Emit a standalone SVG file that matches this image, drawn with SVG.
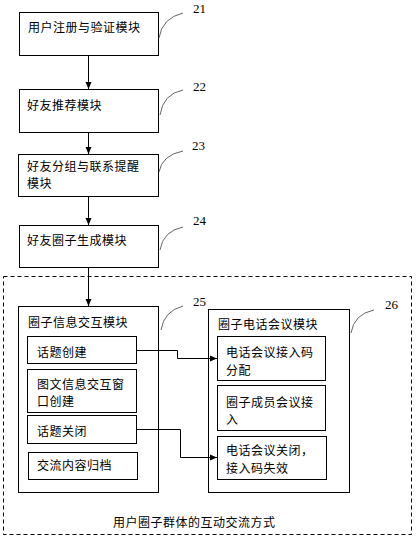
<svg xmlns="http://www.w3.org/2000/svg" width="416" height="544" viewBox="0 0 416 544">
<style>
.box{fill:#fff;stroke:#000;stroke-width:1}
.t{font-family:"Noto Sans CJK SC","Noto Sans CJK JP",sans-serif;font-size:12px;letter-spacing:0.5px;fill:#000}
.n{font-family:"Liberation Serif",serif;font-size:13px;fill:#000}
.c{fill:none;stroke:#666;stroke-width:1}
.l{fill:none;stroke:#000;stroke-width:1}
</style>
<defs>
<marker id="ah" markerWidth="8" markerHeight="8" refX="7" refY="4" orient="auto" markerUnits="userSpaceOnUse">
<path d="M0,1 L7,4 L0,7 Z" fill="#000"/>
</marker>
</defs>
<rect width="416" height="544" fill="#fff"/>
<g id="outer">
<rect x="3.5" y="276.5" width="408" height="258" fill="none" stroke="#000" stroke-dasharray="4,3"/>
<text class="t" x="113" y="527">用户圈子群体的互动交流方式</text>
</g>
<g id="n21">
<rect class="box" x="19.5" y="12.5" width="139" height="43"/>
<text class="t" x="28" y="32">用户注册与验证模块</text>
<path class="c" d="M159,38 Q162,18 183,13"/>
<text class="n" x="193" y="13">21</text>
</g>
<g id="n22">
<rect class="box" x="19.5" y="89.5" width="139" height="43"/>
<text class="t" x="27" y="110">好友推荐模块</text>
<path class="c" d="M160,115 Q163,94 183,90"/>
<text class="n" x="193" y="91">22</text>
</g>
<g id="n23">
<rect class="box" x="18.5" y="154.5" width="140" height="42"/>
<text class="t" x="27" y="170.5" letter-spacing="1.6">好友分组与联系提醒</text>
<text class="t" x="27" y="188">模块</text>
<path class="c" d="M159,172 Q162,155 183,151"/>
<text class="n" x="192" y="150">23</text>
</g>
<g id="n24">
<rect class="box" x="19.5" y="225.5" width="139" height="42"/>
<text class="t" x="27" y="245">好友圈子生成模块</text>
<path class="c" d="M160,250 Q163,231 183,227"/>
<text class="n" x="193" y="225">24</text>
</g>
<g id="n25">
<rect class="box" x="18.5" y="306.5" width="140" height="186"/>
<text class="t" x="28" y="327">圈子信息交互模块</text>
<path class="c" d="M161,330 Q164,311 183,306"/>
<text class="n" x="193" y="306">25</text>
<rect class="box" x="27.5" y="336.5" width="109" height="27"/>
<text class="t" x="37" y="357">话题创建</text>
<rect class="box" x="27.5" y="369.5" width="109" height="43"/>
<text class="t" x="37" y="388.5">图文信息交互窗</text>
<text class="t" x="37" y="406">口创建</text>
<rect class="box" x="27.5" y="415.5" width="109" height="28"/>
<text class="t" x="37" y="436">话题关闭</text>
<rect class="box" x="28.5" y="452.5" width="109" height="27"/>
<text class="t" x="37" y="470">交流内容归档</text>
</g>
<g id="n26">
<rect class="box" x="208.5" y="309.5" width="141" height="183"/>
<text class="t" x="218" y="329">圈子电话会议模块</text>
<path class="c" d="M351,333 Q354,314 374,310"/>
<text class="n" x="385" y="309">26</text>
<rect class="box" x="217.5" y="336.5" width="108" height="44"/>
<text class="t" x="226" y="357">电话会议接入码</text>
<text class="t" x="226" y="375">分配</text>
<rect class="box" x="217.5" y="385.5" width="108" height="45"/>
<text class="t" x="226" y="406.5">圈子成员会议接</text>
<text class="t" x="226" y="424">入</text>
<rect class="box" x="217.5" y="436.5" width="109" height="43"/>
<text class="t" x="226" y="455">电话会议关闭，</text>
<text class="t" x="226" y="472.5">接入码失效</text>
</g>
<g id="connectors">
<path class="l" d="M88.5,55 V89" marker-end="url(#ah)"/>
<path class="l" d="M88.5,132 V154" marker-end="url(#ah)"/>
<path class="l" d="M88.5,196 V225" marker-end="url(#ah)"/>
<path class="l" d="M88.5,267 V306" marker-end="url(#ah)"/>
<path class="l" d="M136,350.5 H177.5 V358.5 H217" marker-end="url(#ah)"/>
<path class="l" d="M136,429.5 H180.5 V457.5 H217" marker-end="url(#ah)"/>
</g>
</svg>
